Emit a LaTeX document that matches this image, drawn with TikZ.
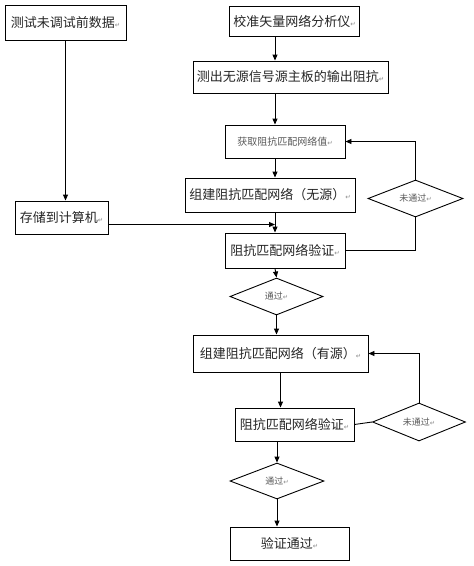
\documentclass[tikz,border=0pt]{standalone}
\usepackage{fontspec}
\setmainfont{Noto Sans CJK SC}
\newfontfamily\dv{DejaVu Sans}
\usetikzlibrary{shapes.geometric,arrows.meta}
\newcommand\rmk{{\dv\color{black!45}\fontsize{6.5}{7}\selectfont ↵}}
\begin{document}
\begin{tikzpicture}[x=1pt,y=-1pt,
 box/.style={draw,line width=0.9pt,rectangle,inner sep=0pt,text=black!85,font=\fontsize{13}{15}\selectfont},
 dia/.style={draw,line width=0.9pt,diamond,aspect=2.5,inner sep=0pt,text=black!65,font=\fontsize{9}{10}\selectfont},
 ln/.style={line width=0.9pt},
 arr/.style={ln,-{Triangle[length=6pt,width=5pt]}}]
\useasboundingbox (0,0) rectangle (474,566);
\fill[white] (0,0) rectangle (474,566);
\coordinate (col) at (275,0);
\node[box,minimum width=121pt,minimum height=35pt] (A) at (65.5,22.5) {测试未调试前数据\rmk};
\node[box,minimum width=130pt,minimum height=30pt] (B) at (294.5,21) {校准矢量网络分析仪\rmk};
\node[box,minimum width=195pt,minimum height=32pt] (C) at (290.5,77) {测出无源信号源主板的输出阻抗\rmk};
\node[box,minimum width=120pt,minimum height=33pt,text=black!65,font=\fontsize{10}{12}\selectfont] (D) at (285,141.5) {获取阻抗匹配网络值\rmk};
\node[box,minimum width=170pt,minimum height=34pt] (E) at (270,195) {组建阻抗匹配网络（无源）\rmk};
\node[box,minimum width=93pt,minimum height=33pt] (F) at (61.5,217.5) {存储到计算机\rmk};
\node[box,minimum width=120pt,minimum height=35pt] (G) at (285,250.5) {阻抗匹配网络验证\rmk};
\node[dia,minimum width=95pt,minimum height=37pt] (U1) at (415.5,198.5) {未通过\rmk};
\node[dia,minimum width=93pt,minimum height=37pt] (H1) at (276.5,296.5) {通过\rmk};
\node[box,minimum width=175pt,minimum height=37pt] (I) at (280.5,353.5) {组建阻抗匹配网络（有源）\rmk};
\node[box,minimum width=119pt,minimum height=33pt] (J) at (294.5,424.5) {阻抗匹配网络验证\rmk};
\node[dia,minimum width=93pt,minimum height=38pt] (U2) at (419,422) {未通过\rmk};
\node[dia,minimum width=94pt,minimum height=36pt] (H2) at (277,481) {通过\rmk};
\node[box,minimum width=119pt,minimum height=33pt] (K) at (289.5,543.5) {验证通过\rmk};
% connectors
\draw[arr] (A.south) -- (A.south |- F.north);
\draw[arr] (B.south -| col) -- (C.north -| col);
\draw[arr] (C.south -| col) -- (D.north -| col);
\draw[arr] (D.south -| col) -- (E.north -| col);
\draw[arr] (E.south -| col) -- (G.north -| col);
\coordinate (fj) at ([yshift=-7pt]F.east);
\draw[arr] (fj) -- (fj -| col);
\draw[arr] (G.south -| col) -- (H1.north);
\draw[arr] (U1.north) |- (D.east);
\draw[ln] (U1.south) |- (G.east);
\draw[arr] (H1.south) -- (H1.south |- I.north);
\draw[arr] (I.south) -- (I.south |- J.north);
\draw[ln] (J.east) -- (U2.west);
\draw[arr] (U2.north) |- (I.east);
\draw[arr] (J.south -| H2.north) -- (H2.north);
\draw[arr] (H2.south) -- (H2.south |- K.north);
\end{tikzpicture}
\end{document}
